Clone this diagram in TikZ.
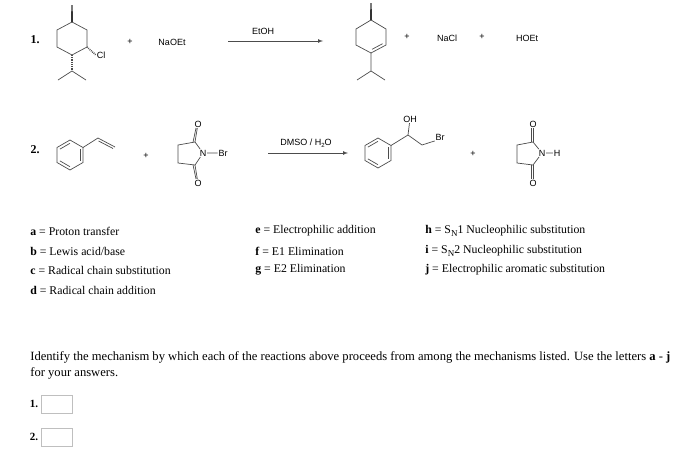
\documentclass[tikz,border=0pt]{standalone}
\usepackage{fontspec}
\usetikzlibrary{calc}
\setmainfont{Liberation Serif}
\newfontfamily\lsans{Liberation Sans}
\begin{document}
\begin{tikzpicture}[x=1pt,y=-1pt,line width=0.7pt,
  bond/.style={draw=black!70},
  lab/.style={font=\lsans\fontsize{9}{10}\selectfont,inner sep=0.5pt},
  key/.style={font=\fontsize{11.8}{13}\selectfont,anchor=west,inner sep=0pt},
  num/.style={font=\bfseries\fontsize{12}{13}\selectfont,inner sep=0pt},
  hashb/.style={dash pattern=on 0.8pt off 1pt,line width=1.6pt,draw=black!70},
  boxs/.style={draw=black!25,minimum width=31pt,minimum height=18pt,inner sep=0pt}]
\useasboundingbox (0,0) rectangle (700,458);
% ---------- Reaction 1 ----------
\node[num] (n1) at (35,40) {1.};
\coordinate (a1) at (72,22); \coordinate (a2) at (87,30); \coordinate (a3) at (87,47);
\coordinate (a4) at (72,55); \coordinate (a5) at (57,47); \coordinate (a6) at (57,30);
\draw[bond] (a1)--(a2)--(a3)--(a4)--(a5)--(a6)--cycle;
\fill[black!80] (71,22)--(73,22)--(72.6,5)--(71.4,5)--cycle;
\node[lab] (cl) at (101,55) {Cl};
\draw[hashb] (a3)--(cl.west);
\coordinate (ip1) at (72,71);
\draw[hashb] (a4)--(ip1);
\coordinate (ip1a) at (58,80); \coordinate (ip1b) at (86,80);
\draw[bond] (ip1a)--(ip1)--(ip1b);
\node[lab] (p1) at (130,42) {+};
\node[lab] (naoet) at (172,42) {NaOEt};
\node[lab] (etoh) at (263,31) {EtOH};
\coordinate (ar1s) at (228,41); \coordinate (ar1e) at (323,41);
\draw[bond,-latex] (ar1s)--(ar1e);
\coordinate (b1) at (371,20); \coordinate (b2) at (386,29); \coordinate (b3) at (386,45);
\coordinate (b4) at (371,53); \coordinate (b5) at (356,45); \coordinate (b6) at (356,29);
\draw[bond] (b1)--(b2)--(b3)--(b4)--(b5)--(b6)--cycle;
\draw[bond] ($(b3)!0.15!(b4)+(-1.2,-2.5)$) -- ($(b3)!0.85!(b4)+(-1.2,-2.5)$);
\fill[black!80] (370,20)--(372,20)--(371.6,3)--(370.4,3)--cycle;
\coordinate (ip2) at (371,71);
\coordinate (ip2a) at (357,80); \coordinate (ip2b) at (385,80);
\draw[bond] (b4)--(ip2) (ip2a)--(ip2)--(ip2b);
\node[lab] (p2) at (407,37) {+};
\node[lab] (nacl) at (447,38) {NaCl};
\node[lab] (p3) at (482,37) {+};
\node[lab] (hoet) at (527,38) {HOEt};
% ---------- Reaction 2 ----------
\node[num] (n2) at (35,150) {2.};
\foreach \i/\ang in {1/90,2/30,3/-30,4/-90,5/-150,6/150}{
  \coordinate (s\i) at ($(70,155)+({15*cos(\ang)},{-15*sin(\ang)})$);
  \coordinate (t\i) at ($(378,153)+({15*cos(\ang)},{-15*sin(\ang)})$);}
\draw[bond] (s1)--(s2)--(s3)--(s4)--(s5)--(s6)--cycle;
\draw[bond] (t1)--(t2)--(t3)--(t4)--(t5)--(t6)--cycle;
\foreach \p/\q in {2/3,4/5,6/1}{
  \draw[bond] ($(70,155)!0.78!(s\p)$)--($(70,155)!0.78!(s\q)$);
  \draw[bond] ($(378,153)!0.78!(t\p)$)--($(378,153)!0.78!(t\q)$);}
\coordinate (v1) at (98,138); \coordinate (v2) at (115,147);
\draw[bond] (s2)--(v1)--(v2);
\draw[bond] ($(v1)+(0.6,3)$)--($(v2)+(-2,1.5)$);
\node[lab] (p4) at (146,156) {+};
\node[lab] (nbsn) at (203,153) {N};
\node[lab] (nbsbr) at (223,153) {Br};
\coordinate (c1) at (195,142); \coordinate (c2) at (178,145); \coordinate (c3) at (178,163); \coordinate (c4) at (195,165);
\node[lab] (o1) at (198,124) {O}; \node[lab] (o2) at (198,183) {O};
\draw[bond] (nbsn)--(c1)--(c2)--(c3)--(c4)--(nbsn) (nbsn)--(nbsbr);
\draw[bond] (c1)--(o1) ($(c1)+(-2,0.3)$)--($(o1.south)+(-2,0)$);
\draw[bond] (c4)--(o2) ($(c4)+(-2,-0.3)$)--($(o2.north)+(-2,0)$);
\node[lab] (dmso) at (306,143) {DMSO / H\raisebox{-0.4ex}{\fontsize{6}{7}\selectfont 2}O};
\coordinate (ar2s) at (268,153); \coordinate (ar2e) at (348,153);
\draw[bond,-latex] (ar2s)--(ar2e);
\coordinate (ch) at (408,135); \coordinate (ch2) at (422,145);
\node[lab] (oh) at (410,119) {OH};
\node[lab] (br2) at (440,137) {Br};
\draw[bond] (t2)--(ch)--(ch2)--(br2.south west) (ch)--(oh);
\node[lab] (p5) at (473,154) {+};
\node[lab] (sn) at (542,153) {N};
\node[lab] (sh) at (557,153) {H};
\coordinate (d1) at (533,142); \coordinate (d2) at (517,145); \coordinate (d3) at (517,163); \coordinate (d4) at (533,165);
\node[lab] (o3) at (533,124) {O}; \node[lab] (o4) at (533,183) {O};
\draw[bond] (sn)--(d1)--(d2)--(d3)--(d4)--(sn) (sn)--(sh);
\draw[bond] (d1)--(o3) ($(d1)+(-2,0.3)$)--($(o3.south)+(-2,0)$);
\draw[bond] (d4)--(o4) ($(d4)+(-2,-0.3)$)--($(o4.north)+(-2,0)$);
% ---------- Key ----------
\node[key] (ka) at (30,231) {\textbf{a} = Proton transfer};
\node[key] (kb) at (30,251) {\textbf{b} = Lewis acid/base};
\node[key] (kc) at (30,270) {\textbf{c} = Radical chain substitution};
\node[key] (kd) at (30,290) {\textbf{d} = Radical chain addition};
\node[key] (ke) at (255,231) {\textbf{e} = Electrophilic addition};
\node[key] (kf) at (255,251) {\textbf{f} = E1 Elimination};
\node[key] (kg) at (255,270) {\textbf{g} = E2 Elimination};
\node[key] (kh) at (425,231) {\textbf{h} = S\raisebox{-0.5ex}{\fontsize{9}{10}\selectfont N}1 Nucleophilic substitution};
\node[key] (ki) at (425,251) {\textbf{i} = S\raisebox{-0.5ex}{\fontsize{9}{10}\selectfont N}2 Nucleophilic substitution};
\node[key] (kj) at (425,270) {\textbf{j} = Electrophilic aromatic substitution};
% ---------- Question ----------
\node[key,font=\fontsize{12.6}{14}\selectfont] (q1) at (30,357) {Identify the mechanism by which each of the reactions above proceeds from among the mechanisms listed. Use the letters \textbf{a} - \textbf{j}};
\node[key,font=\fontsize{12.6}{14}\selectfont] (q2) at (30,373) {for your answers.};
\node[num,font=\bfseries\fontsize{11}{12}\selectfont] (a1l) at (34,404) {1.};
\node[boxs] (box1) at (57,404) {};
\node[num,font=\bfseries\fontsize{11}{12}\selectfont] (a2l) at (34,437) {2.};
\node[boxs] (box2) at (57,437) {};
\end{tikzpicture}
\end{document}
